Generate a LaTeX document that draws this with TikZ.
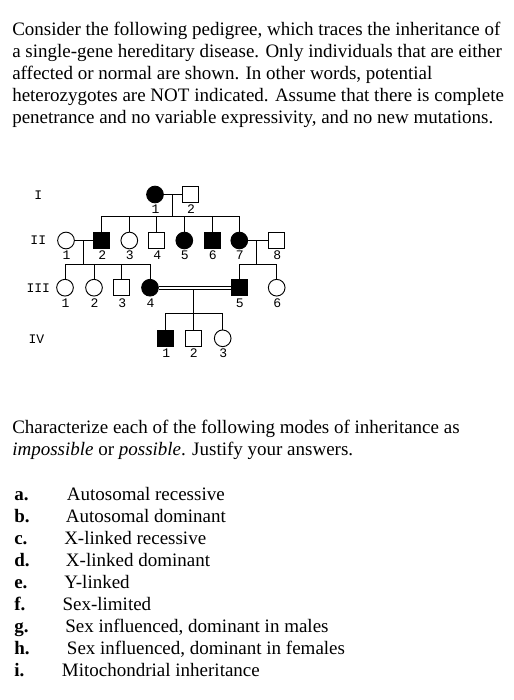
\documentclass[tikz,border=0pt]{standalone}
\usepackage{fontspec}
\setmainfont{Liberation Serif}
\newfontfamily\monof{Liberation Mono}
\begin{document}
\begin{tikzpicture}[x=0.75pt,y=-0.75pt,
  txt/.style={anchor=base west, inner sep=0, font=\fontsize{14.25}{16}\selectfont},
  lbl/.style={anchor=base west, inner sep=0, font=\bfseries\fontsize{14.25}{16}\selectfont},
  male/.style={draw, rectangle, minimum size=11.8pt, inner sep=0, line width=0.7pt},
  female/.style={draw, circle, minimum size=12.5pt, inner sep=0, line width=0.7pt},
  aff/.style={fill=black},
  num/.style={inner sep=0, font=\monof\fontsize{9.8}{10}\selectfont},
  gen/.style={inner sep=0, font=\monof\fontsize{9.8}{10}\selectfont},
  ln/.style={line width=0.7pt}]
\useasboundingbox (0,0) rectangle (514,700);
\fill[white] (0,0) rectangle (514,700);

% top paragraph
\node[txt] (p1) at (12,35) {Consider the following pedigree, which traces the inheritance of};
\node[txt] (p2) at (12,57) {a single-gene hereditary disease. Only individuals that are either};
\node[txt] (p3) at (12,79) {affected or normal are shown. In other words, potential};
\node[txt] (p4) at (12,101) {heterozygotes are NOT indicated. Assume that there is complete};
\node[txt] (p5) at (12,123) {penetrance and no variable expressivity, and no new mutations.};

% generation labels
\node[gen] (gI) at (38.3,195) {I};
\node[gen] (gII) at (38.3,240.5) {II};
\node[gen] (gIII) at (38.3,288) {III};
\node[gen] (gIV) at (36.5,339) {IV};

% generation I
\node[female,aff] (I1) at (155,194.5) {};
\node[male] (I2) at (190.5,194.5) {};
% generation II
\node[female] (II1) at (66,240.5) {};
\node[male,aff] (II2) at (101.7,240.5) {};
\node[female] (II3) at (129.3,240.5) {};
\node[male] (II4) at (156.7,240.5) {};
\node[female,aff] (II5) at (184.3,240.5) {};
\node[male,aff] (II6) at (212.3,240.5) {};
\node[female,aff] (II7) at (239.3,240.5) {};
\node[male] (II8) at (276.7,240.5) {};
% generation III
\node[female] (III1) at (65,287.7) {};
\node[female] (III2) at (94,287.7) {};
\node[male] (III3) at (121.7,287.7) {};
\node[female,aff] (III4) at (150,287.7) {};
\node[male,aff] (III5) at (239.3,287.7) {};
\node[female] (III6) at (276.7,287.7) {};
% generation IV
\node[male,aff] (IV1) at (165.7,338.3) {};
\node[male] (IV2) at (193.3,338.3) {};
\node[female] (IV3) at (222.7,338.3) {};

% numbers
\node[num] (nI1) at (155.5,209) {1};
\node[num] (nI2) at (191,209) {2};
\foreach \x/\n [count=\i] in {66/1,101.7/2,129.3/3,156.7/4,184.3/5,212.3/6,239.3/7,276.7/8}
  \node[num] (nII\i) at (\x+0.5,255.3) {\n};
\foreach \x/\n [count=\i] in {65/1,94/2,121.7/3,150/4,239.3/5,276.7/6}
  \node[num] (nIII\i) at (\x+0.5,303.3) {\n};
\foreach \x/\n [count=\i] in {165.7/1,193.3/2,222.7/3}
  \node[num] (nIV\i) at (\x+0.5,353.5) {\n};

% connectors
\coordinate (m1) at (172.7,194.5);
\coordinate (s1) at (172.7,216.5);
\draw[ln] (I1) -- (I2);
\draw[ln] (m1) -- (s1);
\foreach \c in {II2,II3,II4,II5,II6,II7} \draw[ln] (\c.north) |- (s1);

\coordinate (m2) at (83.5,240.5);
\coordinate (s2) at (83.5,264.3);
\draw[ln] (II1) -- (II2);
\draw[ln] (m2) -- (s2);
\foreach \c in {III1,III2,III3,III4} \draw[ln] (\c.north) |- (s2);

\coordinate (m3) at (256.8,240.5);
\coordinate (s3) at (256.8,264.3);
\draw[ln] (II7) -- (II8);
\draw[ln] (m3) -- (s3);
\foreach \c in {III5,III6} \draw[ln] (\c.north) |- (s3);

\coordinate (m4) at (193.3,289.5);
\coordinate (s4) at (193.3,313.3);
\draw[ln, double, double distance=1.8pt] (III4) -- (III5);
\draw[ln] (m4) -- (s4);
\foreach \c in {IV1,IV2,IV3} \draw[ln] (\c.north) |- (s4);

% question
\node[txt] (q1) at (12,433) {Characterize each of the following modes of inheritance as};
\node[txt] (q2) at (12,455) {\textit{impossible} or \textit{possible}. Justify your answers.};

% list
\foreach \l/\tx/\xx [count=\i] in {a./Autosomal recessive/66.7,
  b./Autosomal dominant/65.7,
  c./X-linked recessive/64,
  d./X-linked dominant/65.7,
  e./Y-linked/64,
  f./Sex-limited/62.3,
  g./{Sex influenced, dominant in males}/65,
  h./{Sex influenced, dominant in females}/66.7,
  i./Mitochondrial inheritance/61.7}
{
  \node[lbl] (L\i) at (14,{500+22*(\i-1)}) {\l};
  \node[txt] (T\i) at (\xx,{500+22*(\i-1)}) {\tx};
}
\end{tikzpicture}
\end{document}
